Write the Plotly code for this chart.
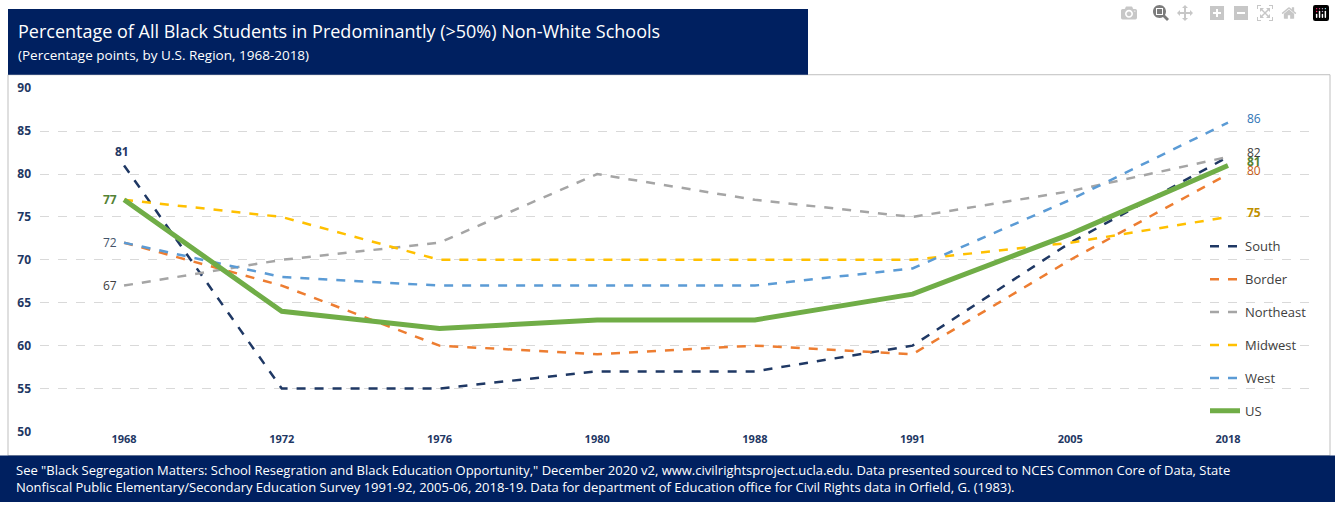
import plotly.graph_objects as go

years = ["1968", "1972", "1976", "1980", "1988", "1991", "2005", "2018"]
south = [81, 55, 55, 57, 57, 60, 72, 82]
border = [72, 67, 60, 59, 60, 59, 70, 80]
northeast = [67, 70, 72, 80, 77, 75, 78, 82]
midwest = [77, 75, 70, 70, 70, 70, 72, 75]
west = [72, 68, 67, 67, 67, 69, 77, 86]
us = [77, 64, 62, 63, 63, 66, 73, 81]

W, H = 1335, 510
NAVY = "#002060"
series = [
    ("South", south, "#1f3864", "dash", 2.5),
    ("Border", border, "#ed7d31", "dash", 2.5),
    ("Northeast", northeast, "#a5a5a5", "dash", 2.5),
    ("Midwest", midwest, "#ffc000", "dash", 2.5),
    ("West", west, "#5b9bd5", "dash", 2.5),
    ("US", us, "#70ad47", "solid", 5),
]
fig = go.Figure()
for i, (name, vals, col, dash, w) in enumerate(series):
    fig.add_trace(go.Scatter(x=years, y=vals, name=name, mode="lines",
                             line=dict(color=col, dash=dash, width=w),
                             legendgroup=f"g{i}"))

def px_x(p): return p / W
def px_y(p): return 1 - p / H

first, last = 0, len(years) - 1
left_labels = [("81", south[0], "#1f3864", True, -2, 14),
               ("77", us[0], "#548235", True, -14, 0),
               ("72", west[0], "#44546a", False, -14, 0),
               ("67", northeast[0], "#404040", False, -14, 0)]
for t, v, c, b, dx, dy in left_labels:
    fig.add_annotation(x=first, y=v, text=f"<b>{t}</b>" if b else t, showarrow=False,
                       xshift=dx, yshift=dy, font=dict(size=12, color=c))
right_labels = [("86", west[-1], "#2e75b6"), ("82", northeast[-1], "#404040"),
                ("<b>81</b>", us[-1], "#548235"), ("80", border[-1], "#c55a11"),
                ("<b>75</b>", midwest[-1], "#bf9000")]
for t, v, c in right_labels:
    fig.add_annotation(x=last, y=v, text=t, showarrow=False, xshift=26, yshift=4,
                       font=dict(size=12, color=c))

shapes = [
    dict(type="rect", xref="paper", yref="paper", x0=px_x(8), x1=px_x(1330), y0=px_y(462), y1=px_y(68),
         line=dict(color="#bfbfbf", width=1), fillcolor="rgba(0,0,0,0)", layer="below"),
    dict(type="rect", xref="paper", yref="paper", x0=px_x(8), x1=px_x(808), y0=px_y(68), y1=1,
         line=dict(width=0), fillcolor=NAVY),
    dict(type="rect", xref="paper", yref="paper", x0=0, x1=1, y0=0, y1=px_y(462),
         line=dict(width=0), fillcolor=NAVY),
]
fig.add_annotation(xref="paper", yref="paper", x=px_x(16), y=px_y(8), xanchor="left", yanchor="top",
                   showarrow=False, align="left",
                   text="Percentage of All Black Students in Predominantly (>50%) Non-White Schools",
                   font=dict(size=18, color="white"))
fig.add_annotation(xref="paper", yref="paper", x=px_x(16), y=px_y(36), xanchor="left", yanchor="top",
                   showarrow=False, align="left",
                   text="(Percentage points, by U.S. Region, 1968-2018)",
                   font=dict(size=13.5, color="white"))
fig.add_annotation(xref="paper", yref="paper", x=px_x(14), y=px_y(466), xanchor="left", yanchor="top",
                   showarrow=False, align="left",
                   text=("See \"Black Segregation Matters: School Resegration and Black Education Opportunity,\" December 2020 v2, www.civilrightsproject.ucla.edu. Data presented sourced to NCES Common Core of Data, State<br>"
                         "Nonfiscal Public Elementary/Secondary Education Survey 1991-92, 2005-06, 2018-19. Data for department of Education office for Civil Rights data in Orfield, G. (1983)."),
                   font=dict(size=13, color="white"))

fig.update_layout(
    width=W, height=H, margin=dict(l=0, r=0, t=0, b=0),
    paper_bgcolor="white", plot_bgcolor="white",
    font=dict(family="Open Sans, Liberation Sans, sans-serif"),
    shapes=shapes, showlegend=True,
    legend=dict(x=px_x(1205), y=px_y(230), xanchor="left", yanchor="top",
                tracegroupgap=13, font=dict(size=13, color="#404040"), bgcolor="rgba(0,0,0,0)"),
    xaxis=dict(type="category", domain=[px_x(40), px_x(1310)], range=[-0.533, 7.52],
               showgrid=False, showline=False, ticks="", zeroline=False,
               tickfont=dict(size=11, color="#1f3864", weight="bold")),
    yaxis=dict(domain=[px_y(437), px_y(82)], range=[50, 90], dtick=5,
               showgrid=True, gridcolor="#d9d9d9", griddash="dash", zeroline=False,
               tickfont=dict(size=12, color="#1f3864", weight="bold"), ticklabelstandoff=8),
)
fig.write_html("out.html")
with open("out.html", encoding="utf-8") as f:
    html = f.read()
html = html.replace("<body>", "<body style=\"margin:0;overflow:hidden\">", 1)
with open("out.html", "w", encoding="utf-8") as f:
    f.write(html)
